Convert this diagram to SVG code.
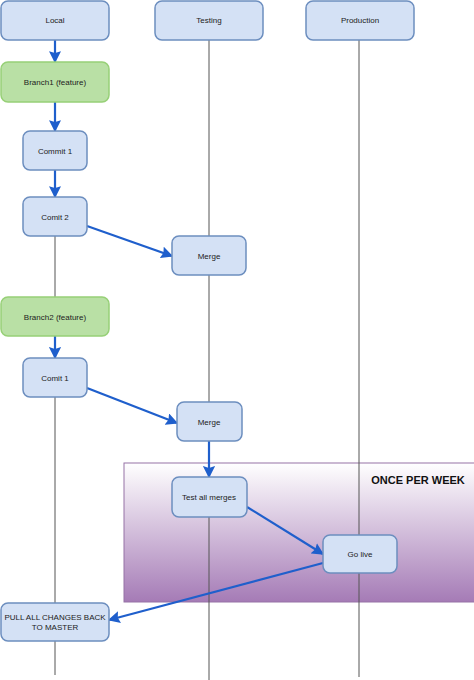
<svg xmlns="http://www.w3.org/2000/svg" width="474" height="680" viewBox="0 0 474 680">
<defs>
<linearGradient id="band" x1="0" y1="0" x2="0" y2="1">
<stop offset="0" stop-color="#ffffff"/>
<stop offset="1" stop-color="#a57bb6"/>
</linearGradient>
<marker id="ah" viewBox="0 0 10 10" refX="9" refY="5" markerWidth="5.5" markerHeight="5.5" orient="auto" markerUnits="strokeWidth">
<path d="M0,0 L10,5 L0,10 L1.5,5 z" fill="#1f5fcc"/>
</marker>
<style>
.n{fill:#d4e1f5;stroke:#6c8ebf;stroke-width:1.5}
.g{fill:#b9e0a5;stroke:#97d077;stroke-width:1.5}
.t{font-family:"Liberation Sans",Arial,sans-serif;font-size:8px;fill:#222;text-anchor:middle}
.life{stroke:#555;stroke-width:1;fill:none}
.arr{stroke:#1f5fcc;stroke-width:2.2;fill:none;marker-end:url(#ah)}
</style>
</defs>
<rect id="weekband" x="124" y="463" width="352" height="139" fill="url(#band)" stroke="#9673a6" stroke-width="1"/>
<text x="418" y="484" font-family="Liberation Sans,Arial,sans-serif" font-size="11" font-weight="bold" fill="#111" text-anchor="middle">ONCE PER WEEK</text>
<g id="lifelines">
<line class="life" x1="55" y1="236" x2="55" y2="297"/>
<line class="life" x1="55" y1="397" x2="55" y2="603"/>
<line class="life" x1="55" y1="641" x2="55" y2="675"/>
<line class="life" x1="209" y1="40" x2="209" y2="236"/>
<line class="life" x1="209" y1="275" x2="209" y2="402"/>
<line class="life" x1="209" y1="517" x2="209" y2="680"/>
<line class="life" x1="359" y1="40" x2="359" y2="535"/>
<line class="life" x1="359" y1="573" x2="359" y2="677"/>
</g>
<g id="connectors">
<line class="arr" x1="55" y1="40" x2="55" y2="62"/>
<line class="arr" x1="55" y1="102" x2="55" y2="131"/>
<line class="arr" x1="55" y1="170" x2="55" y2="197"/>
<line class="arr" x1="87" y1="226" x2="172" y2="256"/>
<line class="arr" x1="55" y1="336" x2="55" y2="358"/>
<line class="arr" x1="87" y1="388" x2="177" y2="423"/>
<line class="arr" x1="209" y1="441" x2="209" y2="477"/>
<line class="arr" x1="247" y1="507" x2="323" y2="554"/>
<line class="arr" x1="323" y1="563" x2="109" y2="620"/>
</g>
<g id="local"><rect class="n" x="1" y="1" width="108" height="39" rx="7"/><text class="t" x="55" y="23">Local</text></g>
<g id="testing"><rect class="n" x="155" y="1" width="108" height="39" rx="7"/><text class="t" x="209" y="23">Testing</text></g>
<g id="production"><rect class="n" x="306" y="1" width="108" height="39" rx="7"/><text class="t" x="360" y="23">Production</text></g>
<g id="branch1"><rect class="g" x="1" y="62" width="108" height="40" rx="7"/><text class="t" x="55" y="85">Branch1 (feature)</text></g>
<g id="commit1"><rect class="n" x="23" y="131" width="64" height="39" rx="7"/><text class="t" x="55" y="154">Commit 1</text></g>
<g id="commit2"><rect class="n" x="23" y="197" width="64" height="39" rx="7"/><text class="t" x="55" y="220">Comit 2</text></g>
<g id="merge1"><rect class="n" x="172" y="236" width="74" height="39" rx="7"/><text class="t" x="209" y="259">Merge</text></g>
<g id="branch2"><rect class="g" x="1" y="297" width="108" height="39" rx="7"/><text class="t" x="55" y="320">Branch2 (feature)</text></g>
<g id="comit1b"><rect class="n" x="23" y="358" width="64" height="39" rx="7"/><text class="t" x="55" y="381">Comit 1</text></g>
<g id="merge2"><rect class="n" x="177" y="402" width="65" height="39" rx="7"/><text class="t" x="209" y="425">Merge</text></g>
<g id="testall"><rect class="n" x="172" y="477" width="75" height="40" rx="7"/><text class="t" x="209" y="500">Test all merges</text></g>
<g id="golive"><rect class="n" x="323" y="535" width="74" height="38" rx="7"/><text class="t" x="360" y="557">Go live</text></g>
<g id="pull"><rect class="n" x="1" y="603" width="108" height="38" rx="7"/><text class="t" x="55" y="620">PULL ALL CHANGES BACK</text><text class="t" x="55" y="630">TO MASTER</text></g>
</svg>
